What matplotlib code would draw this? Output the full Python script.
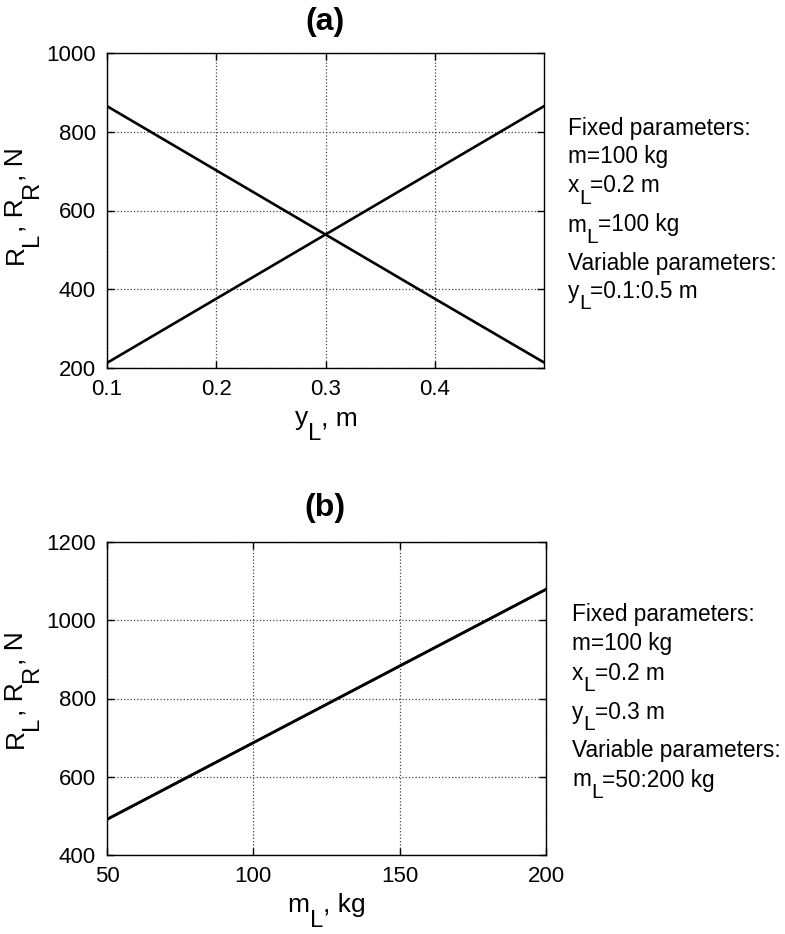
import matplotlib
matplotlib.use("Agg")
import matplotlib.pyplot as plt

plt.rcParams['font.family'] = ['Liberation Sans', 'DejaVu Sans']

# Panel (a) data
yL = [0.1, 0.2, 0.3, 0.4, 0.5]
RL_a = [865, 702, 539, 376, 214]
RR_a = [213, 376, 539, 702, 865]
xticks_a = [0.1, 0.2, 0.3, 0.4]
yticks_a = [200, 400, 600, 800, 1000]
# text runs: (string, is_subscript)
notes_a = [[("Fixed parameters:", 0)],
           [("m=100 kg", 0)],
           [("x", 0), ("L", 1), ("=0.2 m", 0)],
           [("m", 0), ("L", 1), ("=100 kg", 0)],
           [("Variable parameters:", 0)],
           [("y", 0), ("L", 1), ("=0.1:0.5 m", 0)]]
xlabel_a = [("y", 0), ("L", 1), (", m", 0)]

# Panel (b) data
mL = [50, 100, 150, 200]
RL_b = [491, 687, 883, 1079]
RR_b = [491, 687, 883, 1079]
xticks_b = [50, 100, 150, 200]
yticks_b = [400, 600, 800, 1000, 1200]
notes_b = [[("Fixed parameters:", 0)],
           [("m=100 kg", 0)],
           [("x", 0), ("L", 1), ("=0.2 m", 0)],
           [("y", 0), ("L", 1), ("=0.3 m", 0)],
           [("Variable parameters:", 0)],
           [("m", 0), ("L", 1), ("=50:200 kg", 0)]]
xlabel_b = [("m", 0), ("L", 1), (", kg", 0)]

ylabel_runs = [("R", 0), ("L", 1), (", R", 0), ("R", 1), (", N", 0)]

W, H = 785, 934
fig = plt.figure(figsize=(W / 100, H / 100), dpi=100)
renderer = fig.canvas.get_renderer()

def px(x0, y0, x1, y1):
    return [x0 / W, 1 - y1 / H, (x1 - x0) / W, (y1 - y0) / H]

ax_a = fig.add_axes(px(107, 53, 544, 368))
ax_b = fig.add_axes(px(107, 542, 546, 855))

def advance(s, size, weight='normal'):
    t1 = fig.text(0, 0, s + "I", fontsize=size, fontweight=weight)
    t2 = fig.text(0, 0, "I", fontsize=size, fontweight=weight)
    w = t1.get_window_extent(renderer).width - t2.get_window_extent(renderer).width
    t1.remove(); t2.remove()
    return w

def draw_runs(runs, x, y, size, sub_scale=0.92, drop=0.52, rotation=0,
              align='left'):
    """x, y in image pixels (origin top-left); y is the baseline."""
    em = size * 100 / 72.0
    sizes = [size * (sub_scale if s else 1.0) for _, s in runs]
    advs = [advance(t, sz) for (t, _), sz in zip(runs, sizes)]
    total = sum(advs)
    pos = -total / 2 if align == 'center' else 0.0
    for (t, sub), sz, a in zip(runs, sizes, advs):
        d = drop * em if sub else 0.0
        if rotation == 0:
            xx, yy = x + pos, y + d
        else:
            xx, yy = x + d, y - pos
        fig.text(xx / W, 1 - yy / H, t, fontsize=sz, ha='left', va='baseline',
                 rotation=rotation, rotation_mode='anchor')
        pos += a

def style(ax, xt, yt, xlim, ylim):
    ax.set_xlim(*xlim)
    ax.set_ylim(*ylim)
    ax.set_xticks(xt)
    ax.set_yticks(yt)
    ax.set_xticklabels([f"{v:g}" for v in xt])
    ax.set_yticklabels([f"{v:g}" for v in yt])
    ax.tick_params(direction='in', top=True, right=True, length=5, width=1,
                   labelsize=16, pad=8)
    ax.grid(True, linestyle=':', color='#444444', linewidth=0.9)
    for s in ax.spines.values():
        s.set_linewidth(1.0)

ax_a.plot(yL, RL_a, color='black', linewidth=1.9)
ax_a.plot(yL, RR_a, color='black', linewidth=1.9)
style(ax_a, xticks_a, yticks_a, (0.1, 0.5), (200, 1000))

ax_b.plot(mL, RL_b, color='black', linewidth=1.9)
ax_b.plot(mL, RR_b, color='black', linewidth=1.9)
style(ax_b, xticks_b, yticks_b, (50, 200), (400, 1200))

# titles
fig.text(325 / W, 1 - 30 / H, "(a)", fontsize=23, fontweight='bold',
         ha='center', va='baseline')
fig.text(325 / W, 1 - 516 / H, "(b)", fontsize=23, fontweight='bold',
         ha='center', va='baseline')

# axis labels
draw_runs(xlabel_a, 326.5, 425.5, 19, sub_scale=0.9, drop=0.55, align='center')
draw_runs(xlabel_b, 326.5, 912, 19, sub_scale=0.9, drop=0.55, align='center')
draw_runs(ylabel_runs, 23, 206, 19, sub_scale=0.9, drop=0.55, rotation=90,
          align='center')
draw_runs(ylabel_runs, 23, 690, 19, sub_scale=0.9, drop=0.55, rotation=90,
          align='center')

# parameter notes
base_a = [135, 163, 192.5, 231.5, 270, 298]
base_b = [621.5, 650, 680, 719, 756.5, 786.5]
for runs, b in zip(notes_a, base_a):
    draw_runs(runs, 567.5, b, 16.3, sub_scale=0.92, drop=0.5)
for runs, b in zip(notes_b, base_b):
    draw_runs(runs, 572, b, 16.3, sub_scale=0.92, drop=0.5)

fig.savefig("out.png", dpi=100)
